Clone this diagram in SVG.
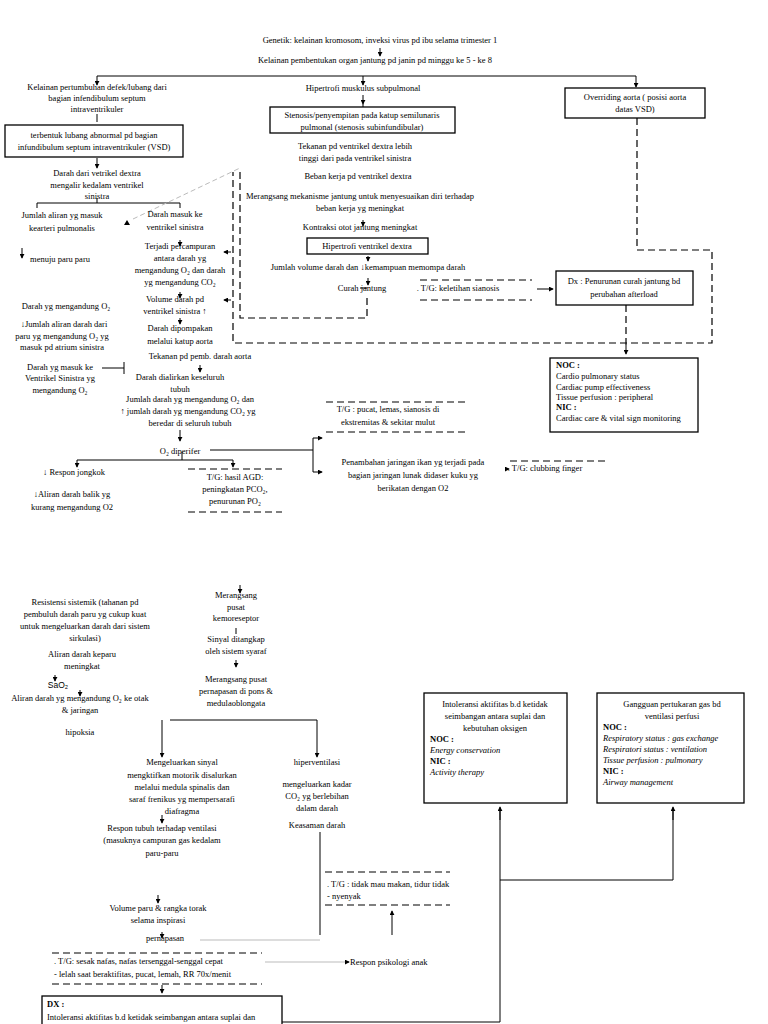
<svg xmlns="http://www.w3.org/2000/svg" width="768" height="1024" viewBox="0 0 768 1024">
<defs>
<marker id="a" viewBox="0 0 6 6" refX="5" refY="3" markerWidth="5" markerHeight="5" orient="auto"><path d="M0,0L6,3L0,6z" fill="#000"/></marker>
<style>
text{font-family:"Liberation Serif",serif;font-size:8.5px;fill:#000;text-anchor:middle}
.l{text-anchor:start}
.i{font-style:italic}
.b{font-weight:bold}
.box{fill:#fff;stroke:#000;stroke-width:1.3}
.ln{fill:none;stroke:#000;stroke-width:1}
.ar{fill:none;stroke:#000;stroke-width:1;marker-end:url(#a)}
.d{fill:none;stroke:#000;stroke-width:1.2;stroke-dasharray:7,4}
.g{fill:none;stroke:#bbb;stroke-width:1}
.gd{fill:none;stroke:#bbb;stroke-width:1;stroke-dasharray:5,3}
</style>
</defs>
<rect width="768" height="1024" fill="#fff"/>
<g id="connectors">
<path class="ln" d="M97,76H636M363,104V107M97,114V122M37,203H180M37,203V208M97,198V203M180,203V208M210,450H313M313,438V472M182,452V460M77,460H233M102,368H124M124,362V374M367,288H360M317,720H170M320,832V935M500,808V1022M500,880H673M673,808V880M282,1022H500M236,628V634"/>
<path class="ar" d="M380,48V56"/><path class="ar" d="M97,76V85"/><path class="ar" d="M363,76V85"/><path class="ar" d="M636,76V87"/>
<path class="ar" d="M363,95V104"/><path class="ar" d="M97,158V168"/><path class="ar" d="M22,248V258"/>
<path class="ar" d="M180,240V246"/><path class="ar" d="M180,292V298"/><path class="ar" d="M180,318V324"/><path class="ar" d="M200,365V372"/>
<path class="ar" d="M180,430V441"/><path class="ar" d="M363,220V226"/><path class="ar" d="M368,256V261"/><path class="ar" d="M368,278V285"/>
<path class="ar" d="M537,289H553"/><path class="ar" d="M626,345V354"/><path class="ar" d="M313,438H322"/><path class="ar" d="M313,472H322"/>
<path class="ar" d="M77,460V467"/><path class="ar" d="M233,460V467"/><path class="ar" d="M505,469H509"/><path class="ar" d="M231,252H224"/><path class="ar" d="M231,300H224"/>
<path class="ar" d="M240,585V593"/><path class="ar" d="M236,660V667"/><path class="ar" d="M162,720V757"/><path class="ar" d="M317,720V757"/>
<path class="ar" d="M162,932V938"/><path class="ar" d="M162,815V823"/><path class="ar" d="M158,895V903"/><path class="ar" d="M162,985V993"/>
<path class="ar" d="M500,820V807"/><path class="ar" d="M673,820V807"/><path class="ar" d="M392,935V911"/><path class="ar" d="M55,675V681"/><path class="ar" d="M80,690V696"/>
<path class="d" d="M420,280H532M420,300H532M326,402H467M326,432H467M188,469H282M188,512H282M510,461H607M626,305V345M637,118V250H712V343H233V172M240,172V318H367V296M231,250H231M325,872H450M325,905H450M52,953H262M52,984H262"/>
<path class="gd" d="M133,219L240,168"/>
<path class="g" d="M200,940H320M265,962H345"/>
<path class="ar" d="M345,962H349"/>
</g>
<g id="top">
<text x="380" y="43">Genetik: kelainan kromosom, inveksi virus pd ibu selama trimester 1</text>
<text x="375" y="63">Kelainan pembentukan organ jantung pd janin pd minggu ke 5 - ke 8</text>
</g>
<g id="left-col">
<text x="97" y="90">Kelainan pertumbuhan defek/lubang dari</text><text x="97" y="101">bagian infendibulum septum</text><text x="97" y="112">intraventrikuler</text>
<rect class="box" x="5" y="125" width="178" height="32"/><text x="94" y="138">terbentuk lubang abnormal pd bagian</text><text x="94" y="150">infundibulum septum intraventrikuler (VSD)</text>
<text x="97" y="176">Darah dari vetrikel dextra</text><text x="97" y="188">mengalir kedalam ventrikel</text><text x="97" y="199">sinistra</text>
<text x="62" y="218">Jumlah aliran yg masuk</text><text x="62" y="231">kearteri pulmonalis</text>
<path d="M124,225l3,-5l3,5z"/>
<text x="60" y="262">menuju paru paru</text>
<text x="175" y="217">Darah masuk ke</text><text x="175" y="230">ventrikel sinistra</text>
<text x="180" y="249">Terjadi percampuran</text><text x="180" y="261">antara darah yg</text><text x="180" y="273">mengandung O₂ dan darah</text><text x="180" y="285">yg mengandung CO₂</text>
<text x="66" y="309">Darah yg mengandung O₂</text>
<text x="175" y="302">Volume darah pd</text><text x="175" y="314">ventrikel sinistra ↑</text>
<text x="64" y="327">↓Jumlah aliran darah dari</text><text x="62" y="339">paru yg mengandung O₂ yg</text><text x="62" y="350">masuk pd atrium sinistra</text>
<text x="180" y="331">Darah dipompakan</text><text x="180" y="344">melalui katup aorta</text>
<text x="200" y="359">Tekanan pd pemb. darah aorta</text>
<text x="60" y="370">Darah yg masuk ke</text><text x="60" y="381">Ventrikel Sinistra yg</text><text x="60" y="393">mengandung O₂</text>
<text x="180" y="380">Darah dialirkan keseluruh</text><text x="180" y="392">tubuh</text>
<text x="190" y="402">Jumlah darah yg mengandung  O₂ dan</text><text x="188" y="414">↑ jumlah darah yg mengandung CO₂ yg</text><text x="190" y="426">beredar di seluruh tubuh</text>
<text x="180" y="454">O₂ diperifer</text>
<text x="74" y="475">↓ Respon jongkok</text><text x="72" y="497">↓Aliran darah balik yg</text><text x="72" y="510">kurang mengandung O2</text>
<text x="235" y="480">T/G: hasil AGD:</text><text x="235" y="492">peningkatan PCO₂,</text><text x="235" y="504">penurunan PO₂</text>
</g>
<g id="mid-col">
<text x="363" y="91">Hipertrofi muskulus subpulmonal</text>
<rect class="box" x="270" y="107" width="185" height="26"/><text x="362" y="118">Stenosis/penyempitan pada katup semilunaris</text><text x="362" y="130">pulmonal (stenosis subinfundibular)</text>
<text x="355" y="149">Tekanan pd ventrikel dextra lebih</text><text x="355" y="161">tinggi dari pada ventrikel sinistra</text>
<text x="358" y="179">Beban kerja pd ventrikel dextra</text>
<text x="360" y="199">Merangsang mekanisme jantung untuk menyesuaikan diri terhadap</text><text x="360" y="211">beban kerja yg meningkat</text>
<text x="360" y="230">Kontraksi otot  jantung meningkat</text>
<rect class="box" x="307" y="238" width="121" height="16"/><text x="367" y="249">Hipertrofi ventrikel dextra</text>
<text x="368" y="270">Jumlah volume darah dan ↓kemampuan memompa darah</text>
<text x="362" y="291">Curah jantung</text>
<text x="458" y="291">. T/G: keletihan sianosis</text>
<text x="388" y="412">T/G : pucat, lemas, sianosis di</text><text x="388" y="425">ekstremitas &amp; sekitar mulut</text>
<text x="413" y="465">Penambahan jaringan ikan yg terjadi pada</text><text x="413" y="478">bagian jaringan lunak didaser kuku yg</text><text x="413" y="491">berikatan dengan   O2</text>
<text x="545" y="471">. T/G: clubbing finger</text>
</g>
<g id="right-col">
<rect class="box" x="565" y="88" width="140" height="30"/><text x="635" y="100">Overriding aorta ( posisi aorta</text><text x="635" y="112">datas VSD)</text>
<rect class="box" x="556" y="271" width="137" height="34"/><text x="624" y="284">Dx : Penurunan curah jantung bd</text><text x="624" y="297">perubahan afterload</text>
<rect class="box" x="550" y="358" width="148" height="74"/>
<text class="l b" x="556" y="368">NOC :</text><text class="l" x="556" y="379">Cardio pulmonary status</text><text class="l" x="556" y="390">Cardiac pump effectiveness</text><text class="l" x="556" y="400">Tissue perfusion : peripheral</text><text class="l b" x="556" y="410">NIC :</text><text class="l" x="556" y="421">Cardiac care &amp; vital sign monitoring</text>
</g>
<g id="bottom-left">
<text x="85" y="605">Resistensi sistemik (tahanan pd</text><text x="85" y="617">pembuluh darah paru yg cukup kuat</text><text x="85" y="629">untuk mengeluarkan darah dari sistem</text><text x="85" y="641">sirkulasi)</text>
<text x="82" y="657">Aliran darah keparu</text><text x="82" y="669">meningkat</text>
<text x="58" y="688" style="font-family:'Liberation Sans',sans-serif">SaO₂</text>
<text x="80" y="701">Aliran darah yg mengandung O₂ ke otak</text><text x="80" y="713">&amp; jaringan</text>
<text x="80" y="735">hipoksia</text>
</g>
<g id="bottom-mid">
<text x="236" y="598">Merangsang</text><text x="236" y="610">pusat</text><text x="236" y="621">kemoreseptor</text>
<text x="236" y="642">Sinyal ditangkap</text><text x="236" y="654">oleh sistem syaraf</text>
<text x="236" y="682">Merangsang pusat</text><text x="236" y="694">pernapasan di pons &amp;</text><text x="236" y="706">medulaoblongata</text>
<text x="182" y="765">Mengeluarkan sinyal</text><text x="182" y="778">mengktifkan motorik disalurkan</text><text x="182" y="790">melalui medula spinalis dan</text><text x="182" y="802">saraf frenikus yg mempersarafi</text><text x="182" y="814">diafragma</text>
<text x="317" y="765">hiperventilasi</text><text x="317" y="787">mengeluarkan kadar</text><text x="317" y="799">CO₂ yg berlebihan</text><text x="317" y="811">dalam darah</text><text x="317" y="828">Keasaman darah</text>
<text x="162" y="831">Respon tubuh terhadap ventilasi</text><text x="162" y="843">(masuknya campuran gas kedalam</text><text x="162" y="856">paru-paru</text>
<text x="158" y="911">Volume paru &amp; rangka torak</text><text x="158" y="923">selama inspirasi</text><text x="165" y="941">pernapasan</text>
<text class="l" x="54" y="964">.     T/G: sesak nafas, nafas tersenggal-senggal cepat</text><text class="l" x="54" y="977">-     lelah saat beraktifitas, pucat, lemah, RR 70x/menit</text>
<text class="l" x="350" y="965">Respon psikologi anak</text>
<text class="l" x="327" y="887">. T/G : tidak mau makan, tidur tidak</text><text class="l" x="327" y="899">- nyenyak</text>
<rect class="box" x="42" y="996" width="240" height="34"/><text class="l b" x="47" y="1007">DX :</text><text class="l" x="47" y="1020">Intoleransi aktifitas b.d ketidak seimbangan antara suplai dan</text>
</g>
<g id="bottom-right">
<rect class="box" x="424" y="693" width="143" height="110"/>
<text x="495" y="707">Intoleransi aktifitas b.d ketidak</text><text x="495" y="719">seimbangan antara suplai dan</text><text x="495" y="731">kebutuhan oksigen</text>
<text class="l b" x="430" y="742">NOC :</text><text class="l i" x="430" y="753">Energy conservation</text><text class="l b" x="430" y="764">NIC :</text><text class="l i" x="430" y="775">Activity therapy</text>
<rect class="box" x="597" y="693" width="147" height="110"/>
<text x="672" y="707">Gangguan pertukaran gas bd</text><text x="672" y="719">ventilasi perfusi</text>
<text class="l b" x="603" y="730">NOC :</text><text class="l i" x="603" y="741">Respiratory status : gas exchange</text><text class="l i" x="603" y="752">Respiratori status : ventilation</text><text class="l i" x="603" y="763">Tissue perfusion : pulmonary</text><text class="l b" x="603" y="774">NIC :</text><text class="l i" x="603" y="785">Airway management</text>
</g>
</svg>
